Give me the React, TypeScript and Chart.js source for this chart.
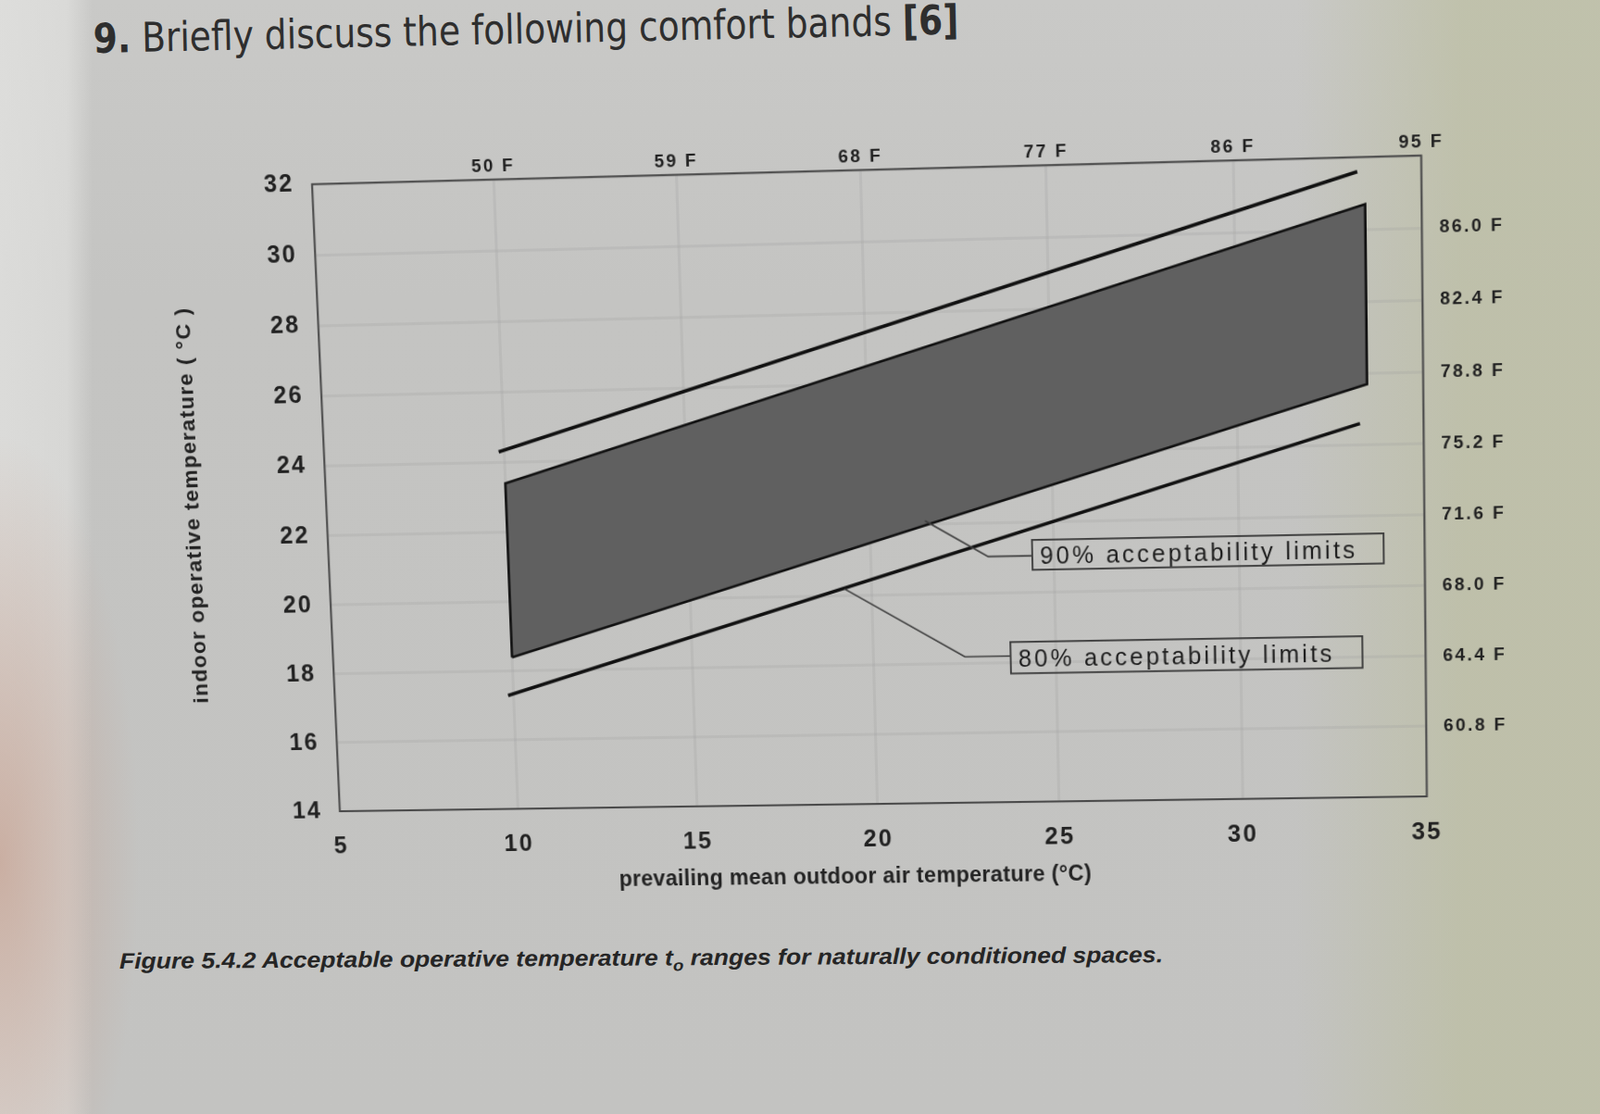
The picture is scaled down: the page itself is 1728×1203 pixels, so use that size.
import React, { useEffect, useLayoutEffect, useRef } from 'react';
import { Chart, registerables } from 'chart.js';

Chart.register(...registerables);

// ---------- data ----------
const xAxisTicks = [5, 10, 15, 20, 25, 30, 35];
const topAxisTicks = [10, 15, 20, 25, 30, 35];
const topAxisLabels = ['50 F', '59 F', '68 F', '77 F', '86 F', '95 F'];
const yAxisTicks = [14, 16, 18, 20, 22, 24, 26, 28, 30, 32];
const rightAxisTicks = [16, 18, 20, 22, 24, 26, 28, 30];
const rightAxisLabels = ['60.8 F', '64.4 F', '68.0 F', '71.6 F', '75.2 F', '78.8 F', '82.4 F', '86.0 F'];

// 90% acceptability band outline (closed): prevailing outdoor temp -> indoor operative temp
const band90X = [10, 10, 33.5, 33.5, 10];
const band90Y = [18.4, 23.4, 30.7, 25.7, 18.4];
// 80% acceptability limits
const upper80X = [9.85, 33.3];
const upper80Y = [24.3, 31.6];
const lower80X = [9.85, 33.3];
const lower80Y = [17.3, 24.6];

// callouts (data coordinates)
const calloutLabels = ['90% acceptability limits', '80% acceptability limits'];
const calloutBoxX = [[24.4, 33.9], [23.75, 33.3]];
const calloutBoxY = [[20.65, 21.5], [17.7, 18.6]];
const calloutLeaderX = [[24.4, 23.2, 21.5], [23.75, 22.5, 19.25]];
const calloutLeaderY = [[21.05, 21.05, 22.1], [18.2, 18.2, 20.2]];

const yTitle = 'indoor operative temperature ( °C )';
const xTitle = 'prevailing mean outdoor air temperature (°C)';

// ---------- layout (page pixels of the photographed plot frame) ----------
const TARGET_CORNERS = [
  [337, 199],
  [1535, 168],
  [1541, 860],
  [367, 876],
];
const CANVAS_W = 1480;
const CANVAS_H = 820;
const FONT = '"Liberation Sans", Arial, sans-serif';

const toPts = (xs: number[], ys: number[]) => xs.map((x, i) => ({ x, y: ys[i] }));

function solveHomography(src: number[][], dst: number[][]) {
  const A: number[][] = [];
  const b: number[] = [];
  for (let i = 0; i < 4; i++) {
    const [x, y] = src[i];
    const [u, v] = dst[i];
    A.push([x, y, 1, 0, 0, 0, -u * x, -u * y]);
    b.push(u);
    A.push([0, 0, 0, x, y, 1, -v * x, -v * y]);
    b.push(v);
  }
  const n = 8;
  for (let c = 0; c < n; c++) {
    let p = c;
    for (let r = c + 1; r < n; r++) if (Math.abs(A[r][c]) > Math.abs(A[p][c])) p = r;
    [A[c], A[p]] = [A[p], A[c]];
    [b[c], b[p]] = [b[p], b[c]];
    for (let r = 0; r < n; r++) {
      if (r === c) continue;
      const f = A[r][c] / A[c][c];
      for (let k = c; k < n; k++) A[r][k] -= f * A[c][k];
      b[r] -= f * b[c];
    }
  }
  return b.map((v, i) => v / A[i][i]);
}

const spacingPlugin = {
  id: 'tickSpacing',
  beforeLayout(chart: any) {
    chart.ctx.letterSpacing = '2.2px';
  },
  beforeDraw(chart: any) {
    chart.ctx.letterSpacing = '2.2px';
  },
};

const overlayPlugin = {
  id: 'overlay',
  afterDatasetsDraw(chart: any) {
    const { ctx, chartArea: ca, scales } = chart;
    const xs = scales.x;
    const ys = scales.y;
    ctx.save();
    // plot frame
    ctx.strokeStyle = '#4a4a4a';
    ctx.lineWidth = 2;
    ctx.strokeRect(ca.left, ca.top, ca.right - ca.left, ca.bottom - ca.top);

    // callouts
    for (let i = 0; i < calloutLabels.length; i++) {
      ctx.strokeStyle = '#3c3c3c';
      ctx.lineWidth = 1.6;
      ctx.beginPath();
      calloutLeaderX[i].forEach((vx, k) => {
        const px = xs.getPixelForValue(vx);
        const py = ys.getPixelForValue(calloutLeaderY[i][k]);
        if (k === 0) ctx.moveTo(px, py);
        else ctx.lineTo(px, py);
      });
      ctx.stroke();

      const x1 = xs.getPixelForValue(calloutBoxX[i][0]);
      const x2 = xs.getPixelForValue(calloutBoxX[i][1]);
      const y1 = ys.getPixelForValue(calloutBoxY[i][1]);
      const y2 = ys.getPixelForValue(calloutBoxY[i][0]);
      ctx.lineWidth = 1.8;
      ctx.strokeStyle = '#3a3a3a';
      ctx.strokeRect(x1, y1, x2 - x1, y2 - y1);

      ctx.fillStyle = '#1e1e1e';
      ctx.font = `25px ${FONT}`;
      (ctx as any).letterSpacing = '3px';
      ctx.textAlign = 'left';
      ctx.textBaseline = 'middle';
      ctx.fillText(calloutLabels[i], x1 + 8, (y1 + y2) / 2 + 3);
    }
    ctx.restore();
  },
  afterDraw(chart: any) {
    const { ctx, chartArea: ca, scales } = chart;
    ctx.save();
    ctx.fillStyle = '#232323';
    ctx.textAlign = 'center';
    ctx.textBaseline = 'middle';

    // y axis title
    ctx.save();
    (ctx as any).letterSpacing = '1.3px';
    ctx.font = `bold 22.5px ${FONT}`;
    ctx.translate(ca.left - 143, (ca.top + ca.bottom) / 2 + 3);
    ctx.rotate(-Math.PI / 2);
    ctx.fillText(yTitle, 0, 0);
    ctx.restore();

    // x axis title
    (ctx as any).letterSpacing = '0.3px';
    ctx.font = `bold 23px ${FONT}`;
    ctx.fillText(xTitle, scales.x.getPixelForValue(19.3), ca.bottom + 78);
    ctx.restore();
  },
};

function FitText(props: {
  x: number;
  baseline: number;
  width: number;
  angle: number;
  fontSize: number;
  font: string;
  color: string;
  style?: React.CSSProperties;
  children: React.ReactNode;
}) {
  const ref = useRef<HTMLDivElement>(null);
  useLayoutEffect(() => {
    const el = ref.current;
    if (!el) return;
    const w = el.scrollWidth || 1;
    el.style.transform = `rotate(${props.angle}deg) scaleX(${props.width / w})`;
  }, []);
  return (
    <div
      ref={ref}
      style={{
        position: 'absolute',
        left: props.x,
        top: props.baseline - 0.85 * props.fontSize,
        whiteSpace: 'nowrap',
        lineHeight: 1,
        fontSize: props.fontSize,
        fontFamily: props.font,
        color: props.color,
        transformOrigin: '0 85%',
        ...props.style,
      }}
    >
      {props.children}
    </div>
  );
}

export default function App() {
  const canvasRef = useRef<HTMLCanvasElement>(null);

  useEffect(() => {
    document.body.style.margin = '0';
    document.body.style.overflow = 'hidden';
    const canvas = canvasRef.current!;
    const tickFontBig = { family: FONT, size: 25, weight: 'bold' as const };
    const tickFontSmall = { family: FONT, size: 18.5, weight: 'bold' as const };
    const gridColor = 'rgba(150,150,150,0.2)';

    const chart = new Chart(canvas, {
      type: 'scatter',
      data: {
        datasets: [
          {
            label: '90% acceptability limits',
            data: toPts(band90X, band90Y),
            showLine: true,
            fill: 'shape',
            backgroundColor: '#606060',
            borderColor: '#111111',
            borderWidth: 2.6,
            borderJoinStyle: 'miter',
            pointRadius: 0,
            tension: 0,
          },
          {
            label: '80% upper',
            data: toPts(upper80X, upper80Y),
            showLine: true,
            fill: false,
            borderColor: '#111111',
            borderWidth: 3.6,
            pointRadius: 0,
          },
          {
            label: '80% lower',
            data: toPts(lower80X, lower80Y),
            showLine: true,
            fill: false,
            borderColor: '#111111',
            borderWidth: 3.6,
            pointRadius: 0,
          },
        ],
      },
      options: {
        responsive: false,
        animation: false,
        events: [],
        layout: { padding: { left: 140, right: 15, top: 10, bottom: 50 } },
        plugins: { legend: { display: false }, tooltip: { enabled: false } },
        scales: {
          x: {
            type: 'linear',
            position: 'bottom',
            min: 5,
            max: 35,
            afterBuildTicks: (s: any) => {
              s.ticks = xAxisTicks.map((v) => ({ value: v }));
            },
            grid: { color: gridColor, lineWidth: 3, drawTicks: false },
            border: { display: false },
            ticks: { font: tickFontBig, color: '#222', padding: 23, maxRotation: 0 },
          },
          x2: {
            type: 'linear',
            position: 'top',
            min: 5,
            max: 35,
            afterBuildTicks: (s: any) => {
              s.ticks = topAxisTicks.map((v) => ({ value: v }));
            },
            grid: { display: false, drawTicks: false },
            border: { display: false },
            ticks: {
              font: tickFontSmall,
              color: '#222',
              padding: 2,
              maxRotation: 0,
              callback: (v: any) => {
                const i = topAxisTicks.indexOf(Number(v));
                return i >= 0 ? topAxisLabels[i] : '';
              },
            },
          },
          y: {
            type: 'linear',
            position: 'left',
            min: 14,
            max: 32,
            afterBuildTicks: (s: any) => {
              s.ticks = yAxisTicks.map((v) => ({ value: v }));
            },
            grid: { color: gridColor, lineWidth: 3, drawTicks: false },
            border: { display: false },
            ticks: { font: tickFontBig, color: '#222', padding: 19 },
          },
          y2: {
            type: 'linear',
            position: 'right',
            min: 14,
            max: 32,
            afterBuildTicks: (s: any) => {
              s.ticks = rightAxisTicks.map((v) => ({ value: v }));
            },
            grid: { display: false, drawTicks: false },
            border: { display: false },
            ticks: {
              font: tickFontSmall,
              color: '#222',
              padding: 18,
              callback: (v: any) => {
                const i = rightAxisTicks.indexOf(Number(v));
                return i >= 0 ? rightAxisLabels[i] : '';
              },
            },
          },
        },
      },
      plugins: [spacingPlugin, overlayPlugin],
    } as any);

    const ca = chart.chartArea;
    const h = solveHomography(
      [
        [ca.left, ca.top],
        [ca.right, ca.top],
        [ca.right, ca.bottom],
        [ca.left, ca.bottom],
      ],
      TARGET_CORNERS
    );
    canvas.style.transformOrigin = '0 0';
    canvas.style.transform = `matrix3d(${h[0]},${h[3]},0,${h[6]},${h[1]},${h[4]},0,${h[7]},0,0,1,0,${h[2]},${h[5]},0,1)`;

    return () => chart.destroy();
  }, []);

  const background = [
    'radial-gradient(ellipse 150px 460px at 0px 930px, rgba(196,160,144,0.75), rgba(196,160,144,0) 100%)',
    'linear-gradient(90deg, rgba(238,238,236,0.55) 0px, rgba(238,238,236,0.45) 72px, rgba(238,238,236,0) 100px)',
    'linear-gradient(90deg, rgba(188,190,160,0) 1400px, rgba(188,190,160,0.7) 1580px)',
    'linear-gradient(180deg, #c9c9c7 0px, #c4c4c2 320px, #c3c3c1 1203px)',
  ].join(',');

  return (
    <div
      style={{
        position: 'absolute',
        left: 0,
        top: 0,
        width: 1728,
        height: 1203,
        overflow: 'hidden',
        background,
      }}
    >
      <FitText
        x={101}
        baseline={57}
        width={935}
        angle={-1.25}
        fontSize={44}
        font='"DejaVu Sans", Verdana, sans-serif'
        color="#2e2e2e"
      >
        <b>9.</b> Briefly discuss the following comfort bands <b>[6]</b>
      </FitText>
      <canvas
        ref={canvasRef}
        width={CANVAS_W}
        height={CANVAS_H}
        style={{ position: 'absolute', left: 0, top: 0 }}
      />
      <FitText
        x={129}
        baseline={1046}
        width={1127}
        angle={-0.35}
        fontSize={24}
        font={FONT}
        color="#252525"
        style={{ fontWeight: 'bold', fontStyle: 'italic' }}
      >
        Figure 5.4.2 Acceptable operative temperature <i>t</i>
        <sub style={{ fontSize: '0.7em', lineHeight: 0 }}>o</sub> ranges for naturally conditioned spaces.
      </FitText>
    </div>
  );
}
